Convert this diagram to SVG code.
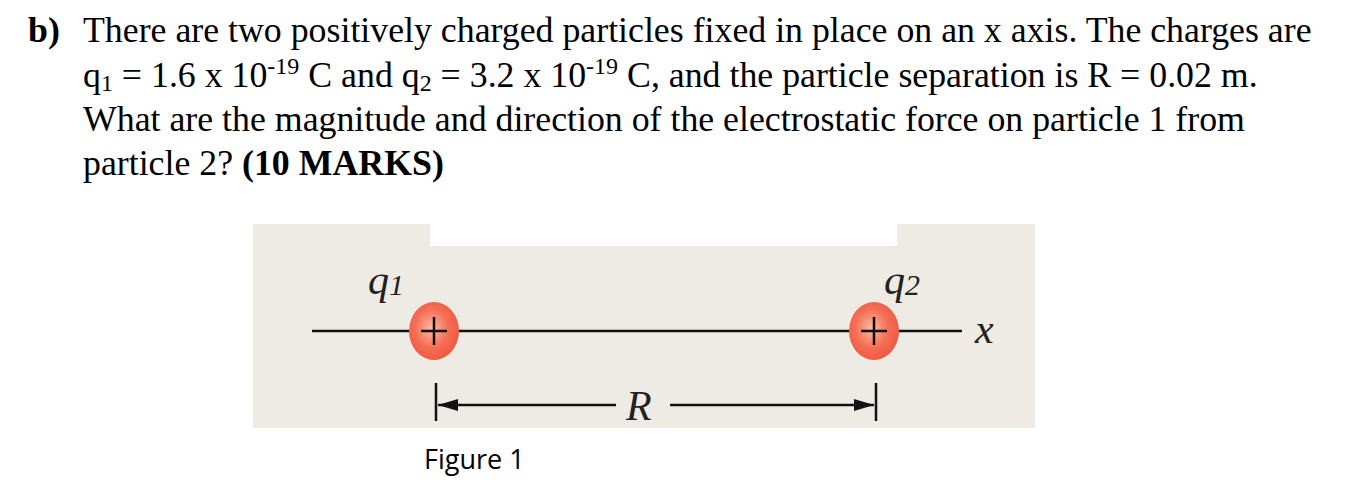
<svg xmlns="http://www.w3.org/2000/svg" width="1352" height="493" viewBox="0 0 1352 493">
<defs>
<style>
.t{font-family:"Liberation Serif",serif;font-size:35.8px;fill:#000}
.i{font-family:"Liberation Serif",serif;font-style:italic;font-size:42px;fill:#222}
.ln{stroke:#111;stroke-width:2.5}
</style>
<radialGradient id="g" cx="0.45" cy="0.45" r="0.55"><stop offset="0" stop-color="#fbb9a6"/><stop offset="0.6" stop-color="#f56f55"/><stop offset="1" stop-color="#ef5a43"/></radialGradient>
<marker id="a" viewBox="0 0 10 10" refX="10" refY="5" markerWidth="8" markerHeight="8" orient="auto-start-reverse"><path d="M0,2 L10,5 L0,8 Z" fill="#111"/></marker>
</defs>
<rect width="1352" height="493" fill="#fff"/>
<text class="t" x="28" y="42" font-weight="bold">b)</text>
<text class="t" x="83" y="42">There are two positively charged particles fixed in place on an x axis. The charges are</text>
<text class="t" x="83" y="87">q<tspan font-size="24" dy="4">1</tspan><tspan dy="-4"> = 1.6 x 10</tspan><tspan font-size="24" dy="-13">-19</tspan><tspan dy="13"> C and q</tspan><tspan font-size="24" dy="4">2</tspan><tspan dy="-4"> = 3.2 x 10</tspan><tspan font-size="24" dy="-13">-19</tspan><tspan dy="13"> C, and the particle separation is R = 0.02 m.</tspan></text>
<text class="t" x="83" y="131">What are the magnitude and direction of the electrostatic force on particle 1 from</text>
<text class="t" x="83" y="175">particle 2? <tspan font-weight="bold">(10 MARKS)</tspan></text>
<g id="figure">
<rect x="253" y="224" width="782" height="204" fill="#edebe3"/>
<rect x="430" y="224" width="467" height="22" fill="#fff"/>
</g>
<g id="connectors">
<line class="ln" x1="312" y1="331" x2="962" y2="331"/>
<line class="ln" x1="436" y1="383" x2="436" y2="421"/>
<line class="ln" x1="876" y1="383" x2="876" y2="421"/>
<line class="ln" x1="616" y1="405" x2="438" y2="405" marker-end="url(#a)"/>
<line class="ln" x1="670" y1="405" x2="874" y2="405" marker-end="url(#a)"/>
</g>
<g id="q1"><ellipse cx="434" cy="331" rx="25" ry="29" fill="url(#g)"/><path d="M434,317V345M421,331H447" class="ln" stroke-width="3"/><text class="i" x="368" y="294">q<tspan font-size="30" dy="1">1</tspan></text></g>
<g id="q2"><ellipse cx="874" cy="331" rx="25" ry="29" fill="url(#g)"/><path d="M874,317V345M861,331H887" class="ln" stroke-width="3"/><text class="i" x="884" y="294">q<tspan font-size="30" dy="1">2</tspan></text></g>
<text class="i" x="975" y="343">x</text>
<text class="i" x="626" y="420">R</text>
<text x="424" y="469" font-family="'Open Sans',sans-serif" font-size="27" fill="#000">Figure 1</text>
</svg>
